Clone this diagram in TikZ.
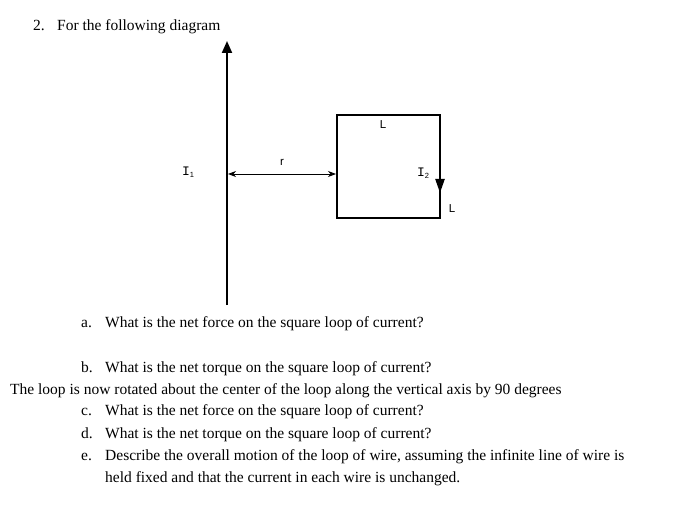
\documentclass[tikz,border=0pt]{standalone}
\usepackage{fontspec}
\setmainfont{Liberation Serif}
\setsansfont{Liberation Sans}
\newfontfamily\lblmono{Liberation Mono}
\usetikzlibrary{arrows.meta,positioning}
\newcommand{\curlbl}[1]{{\lblmono\fontsize{13}{13}\selectfont I}\raisebox{-2.5pt}{\sffamily\fontsize{7.5}{8}\selectfont #1}}
\tikzset{qtext/.style={anchor=base west, inner sep=0pt, font=\fontsize{15.5}{18}\selectfont},
lbl/.style={inner sep=0pt, font=\sffamily\fontsize{11.5}{12}\selectfont},
wire/.style={line width=2pt},
flow/.style={line width=2.2pt, -{Triangle[length=14pt,width=9pt]}}}
\begin{document}
\begin{tikzpicture}[x=1pt,y=-1pt]
\useasboundingbox (0,0) rectangle (676,510);
\node[qtext] (num) at (33,31) {2.};
\node[qtext] (head) at (57,31) {For the following diagram};
% the infinite wire
\coordinate (wire-bot) at (227,305);
\coordinate (wire-top) at (227,41);
\coordinate (wire-r) at (228,174);
\draw[wire, -{Triangle[length=12pt,width=10pt]}] (wire-bot) -- (wire-top);
\node[lbl] (I1) at (188,172) {\curlbl{1}};
% the square loop
\node[draw, line width=2pt, minimum width=103pt, minimum height=103pt, inner sep=0pt] (loop) at (388.5,166.5) {};
\path[<->]
  (wire-r) edge[line width=0.9pt, {Stealth[length=8pt,width=6pt,inset=2.5pt]}-{Stealth[length=8pt,width=6pt,inset=2.5pt]}] node[lbl, above=8pt] (r) {r} (loop.west |- wire-r);
\node[lbl] (Ltop) at (383,125) {L};
\coordinate (cur-a) at (440,140);
\coordinate (cur-b) at (440,193);
\draw[flow] (cur-a) -- (cur-b);
\node[lbl] (I2) at (423,173) {\curlbl{2}};
\node[lbl] (Lside) at (452,209) {L};
% questions
\node[qtext] (qa) at (81,327) {a.};
\node[qtext] (qa-t) at (105,327) {What is the net force on the square loop of current?};
\node[qtext] (qb) at (81,372) {b.};
\node[qtext] (qb-t) at (105,372) {What is the net torque on the square loop of current?};
\node[qtext] (note) at (10,394) {The loop is now rotated about the center of the loop along the vertical axis by 90 degrees};
\node[qtext] (qc) at (81,415) {c.};
\node[qtext] (qc-t) at (105,415) {What is the net force on the square loop of current?};
\node[qtext] (qd) at (81,438) {d.};
\node[qtext] (qd-t) at (105,438) {What is the net torque on the square loop of current?};
\node[qtext] (qe) at (81,460) {e.};
\node[qtext] (qe-t) at (105,460) {Describe the overall motion of the loop of wire, assuming the infinite line of wire is};
\node[qtext] (qe-t2) at (105,482) {held fixed and that the current in each wire is unchanged.};
\end{tikzpicture}
\end{document}
